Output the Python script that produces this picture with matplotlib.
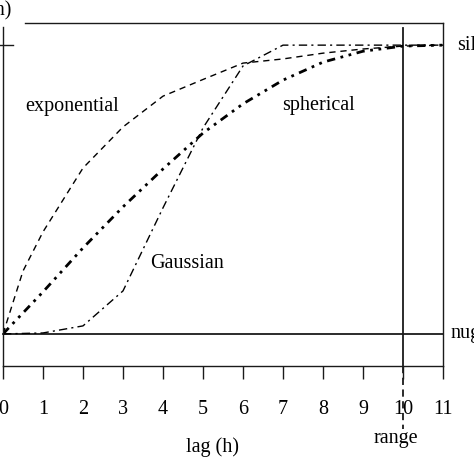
import matplotlib
matplotlib.use("Agg")
import matplotlib.pyplot as plt

plt.rcParams['font.family'] = ['Liberation Serif', 'DejaVu Serif']

# data
lag = [0, 1, 2, 3, 4, 5, 6, 7, 8, 9, 10, 11]
lag_exp = [0, 0.5, 1, 2, 3, 4, 5, 6, 7, 8, 9, 10, 11]
exponential = [1, 2.96, 4.18, 6.17, 7.45, 8.41, 8.93, 9.44, 9.57, 9.75, 9.88, 9.97, 10]
spherical = [1, 2.31, 3.68, 4.96, 6.14, 7.26, 8.17, 8.91, 9.47, 9.81, 9.97, 10]
gaussian = [1, 1.03, 1.25, 2.34, 4.93, 7.42, 9.35, 10, 10, 10, 10, 10]
nugget = 1
sill = 10
range_h = 10
xticks = list(range(0, 12))

W = H = 474
fig = plt.figure(figsize=(W / 100, H / 100), dpi=100)
ax = fig.add_axes([3 / W, 108 / H, 440 / W, 343 / H])
ax.set_xlim(0, 11)
ymax = 10.69
ax.set_ylim(0, ymax)

fc = '#1a1a1a'
for s in ['left', 'right', 'bottom']:
    ax.spines[s].set_color(fc)
    ax.spines[s].set_linewidth(1.0)
ax.spines['top'].set_visible(False)
ax.spines['left'].set_bounds(0, 10.56)
ax.plot([0.55, 11], [ymax, ymax], color=fc, lw=1.0, clip_on=False)

ax.set_xticks(xticks)
ax.set_xticklabels([str(t) for t in xticks])
ax.tick_params(axis='x', direction='out', length=9.5, width=1.0, color=fc,
               pad=15, labelsize=14.5)
ax.set_yticks([])

# sill tick
ax.plot([-0.075, 0.25], [sill, sill], color=fc, lw=1.0, clip_on=False)

# nugget line
ax.plot([0, 11], [nugget, nugget], color=fc, lw=1.3, clip_on=False)

# range line
ax.plot([range_h, range_h], [0, 10.53], color=fc, lw=1.3, clip_on=False)
ax.plot([range_h, range_h], [0, -1.95], color=fc, lw=1.3, clip_on=False,
        dashes=(4, 2.5))

# curves
ax.plot(lag_exp, exponential, color='black', lw=1.0, dashes=(4.5, 3.5))
ax.plot(lag, spherical, color='black', lw=2.0, dashes=(3, 2, 1, 2, 1, 2))
ax.plot(lag, gaussian, color='black', lw=1.0, dashes=(6, 3, 1.5, 3))

fs = 14.5
ax.text(0.55, 8.1, 'exponential', fontsize=fs, ha='left', va='center')
ax.text(6.975, 8.13, 'spherical', fontsize=fs, ha='left', va='center')
ax.text(3.675, 3.21, 'Gaussian', fontsize=fs, ha='left', va='center')
ax.text(11.35, sill, 'sill', fontsize=fs, ha='left', va='center', clip_on=False)
ax.text(11.18, nugget, 'nugget', fontsize=fs, ha='left', va='center', clip_on=False)
ax.text(0.2, 11.09, 'γ(h)', fontsize=fs, ha='right', va='center', clip_on=False)

ax.text(5.23, -2.52, 'lag (h)', fontsize=fs, ha='center', va='center', clip_on=False)
ax.text(9.83, -2.25, 'range', fontsize=fs, ha='center', va='center', clip_on=False)

fig.savefig('out.png', dpi=100)
